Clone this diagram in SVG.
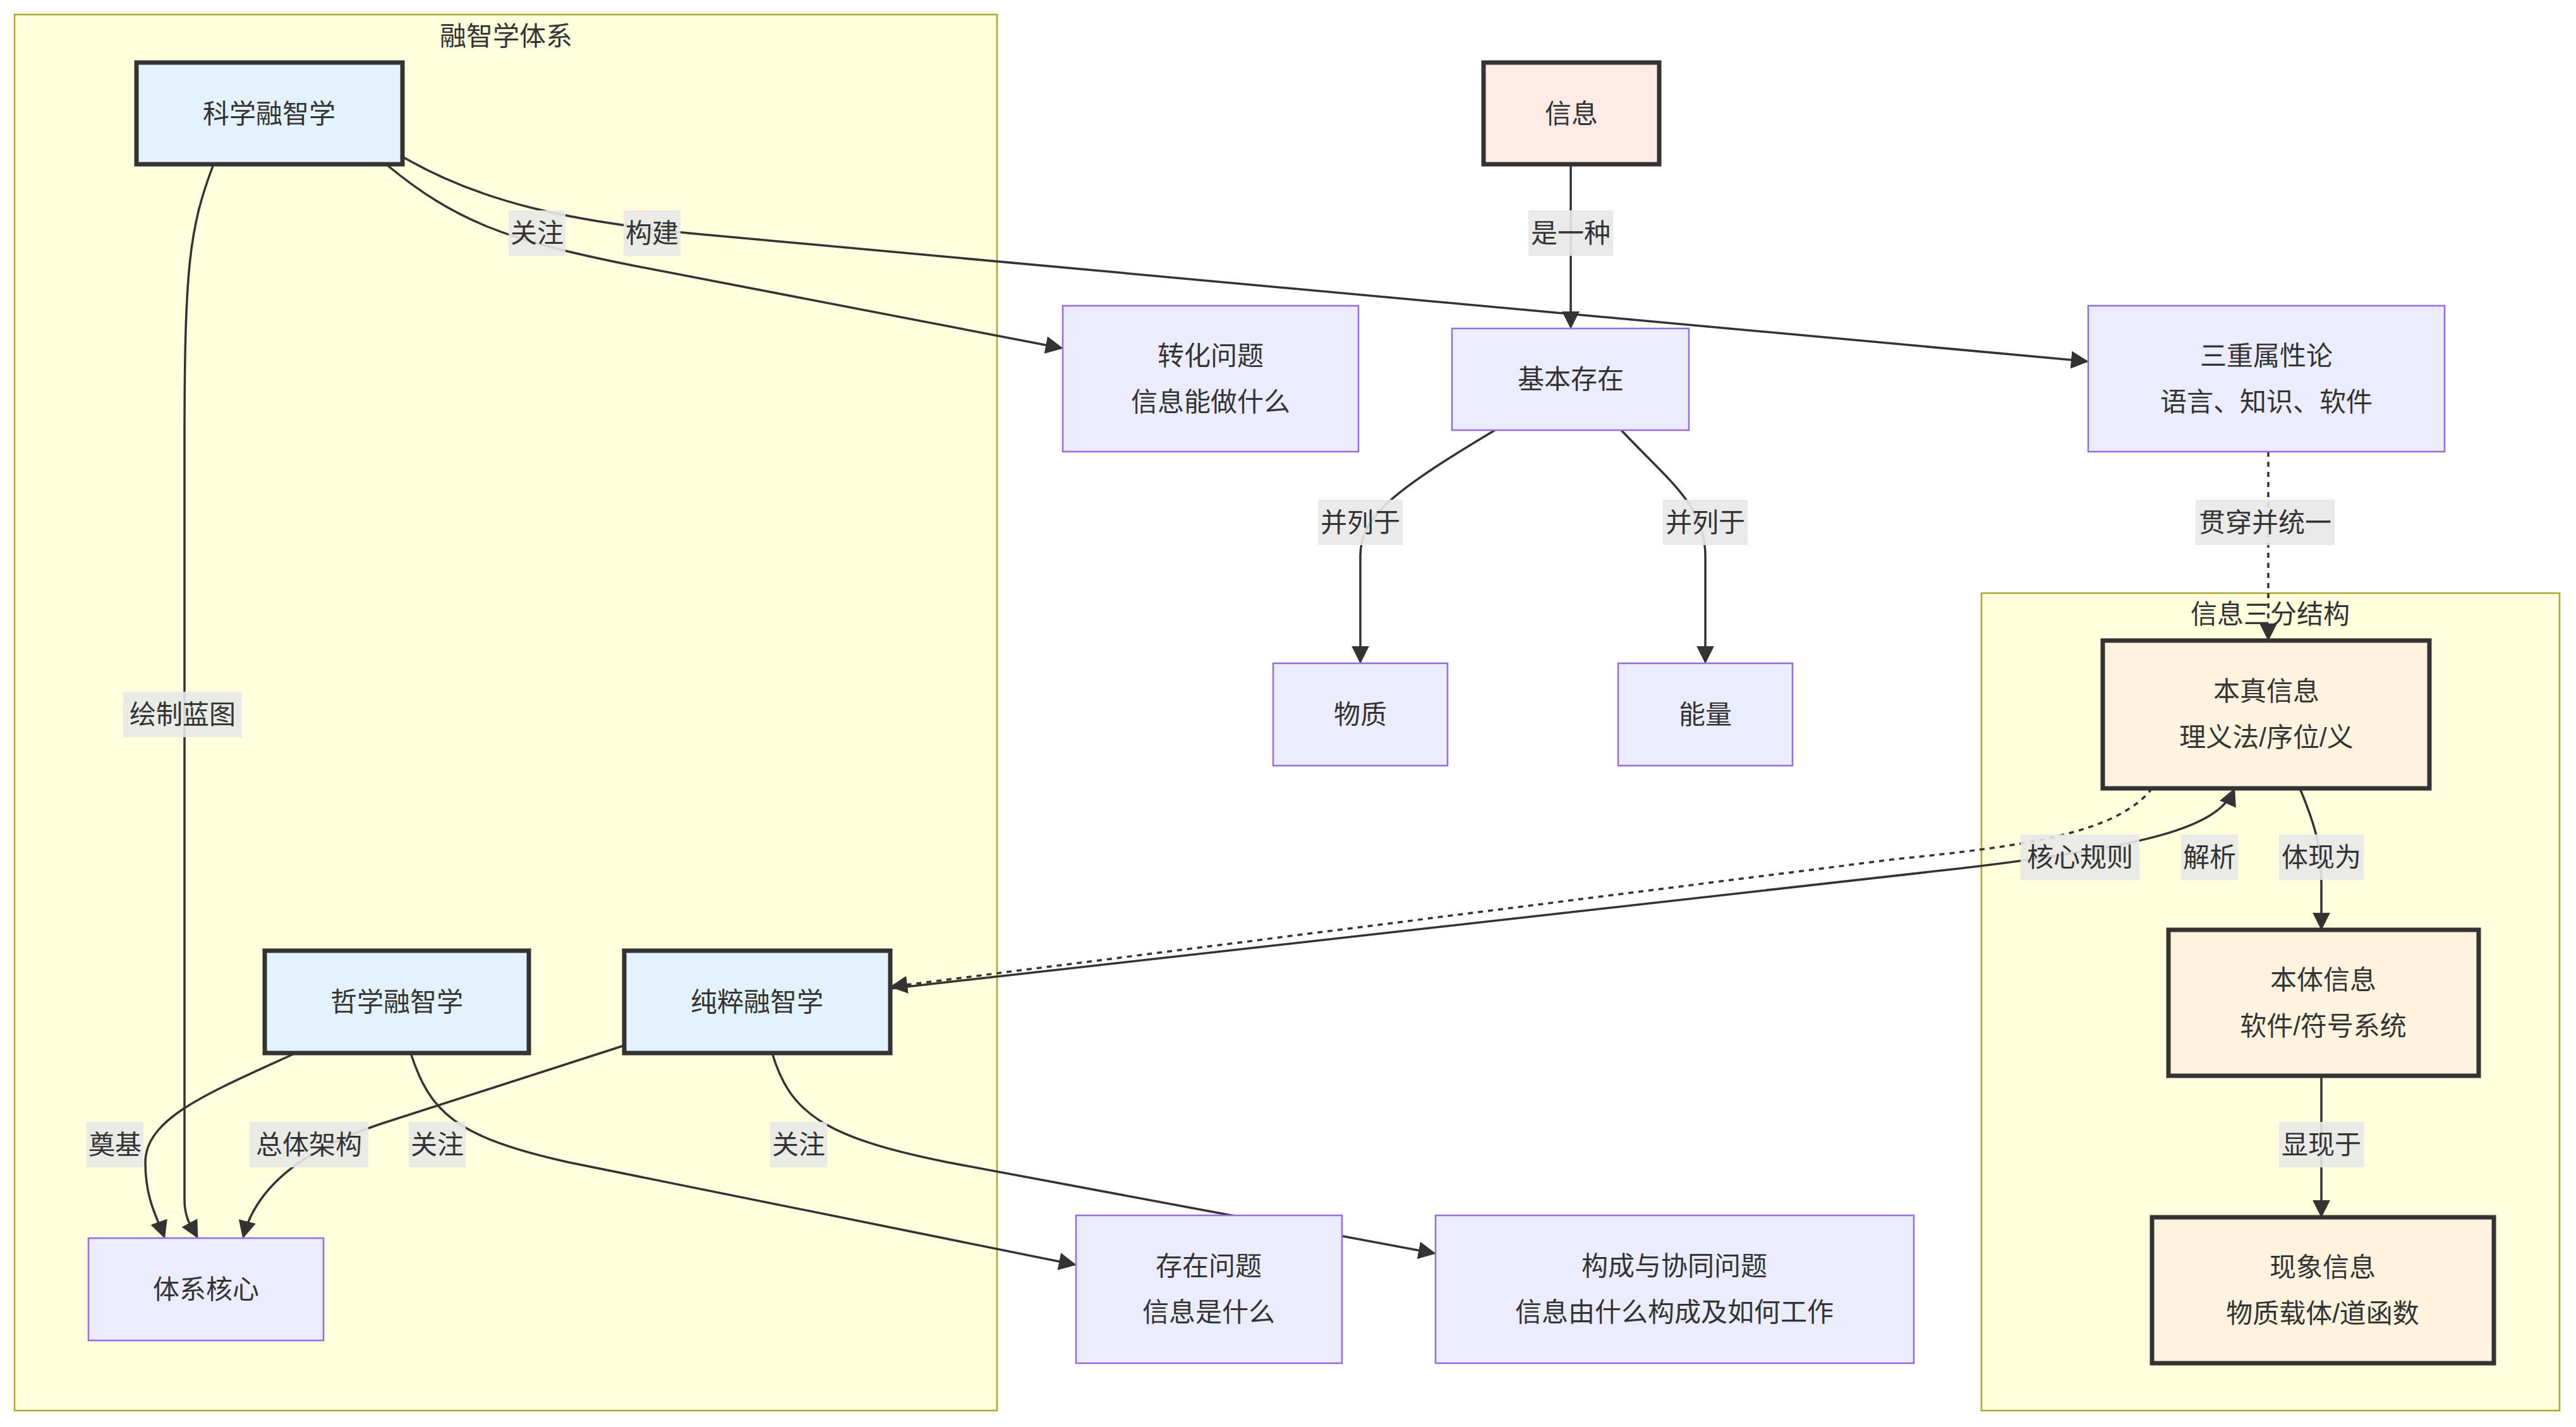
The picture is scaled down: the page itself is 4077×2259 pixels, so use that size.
<svg xmlns="http://www.w3.org/2000/svg" width="4077" height="2259" viewBox="0 0 4077 2259">
<defs>
<marker id="a" viewBox="0 0 10 10" refX="9" refY="5" markerWidth="10" markerHeight="10" markerUnits="userSpaceOnUse" orient="auto"><path d="M0,0L10,5L0,10z" fill="#333"/></marker>
<marker id="ah" viewBox="0 0 10 10" refX="9" refY="5" markerWidth="28" markerHeight="28" markerUnits="userSpaceOnUse" orient="auto"><path d="M0,0L10,5L0,10z" fill="#333"/></marker>
</defs>
<style>
text{font-family:"Liberation Sans","Noto Sans CJK SC",sans-serif;font-size:42px;fill:#333;text-anchor:middle;dominant-baseline:central}
.cl{fill:#ffffde;stroke:#aaaa33;stroke-width:2.6}
.t{fill:#ececff;stroke:#9370db;stroke-width:2.6}
.b{fill:#e3f2fd;stroke:#333;stroke-width:7}
.r{fill:#ffebe5;stroke:#333;stroke-width:7}
.o{fill:#fff3e0;stroke:#333;stroke-width:7}
.e{fill:none;stroke:#333;stroke-width:3.5;marker-end:url(#ah)}
.d{stroke-dasharray:8 8}
.lb{fill:#e8e8e8;opacity:0.9}
</style>
<g id="clusters">
<rect class="cl" x="23" y="23" width="1555" height="2210"/>
<text x="801" y="57">融智学体系</text>
<rect class="cl" x="3136" y="939" width="915" height="1294"/>
</g>
<g id="connectors">
<path class="e" d="M338,260 C300,360 292,420 292,700 L292,1900 C292,1930 305,1945 312,1958"/>
<path class="e" d="M611,260 C720,350 800,380 1000,420 L1680,551"/>
<path class="e" d="M637,248 C760,320 900,350 1100,370 L3303,572"/>
<path class="e" d="M2486,260 L2486,518"/>
<path class="e" d="M2366,681 C2200,780 2153,820 2153,880 L2153,1048"/>
<path class="e" d="M2566,681 C2640,760 2699,800 2699,880 L2699,1048"/>
<path class="e d" d="M3590,715 L3590,1012"/>
<path class="e" d="M3640,1248 C3670,1320 3674,1350 3674,1400 L3674,1470"/>
<path class="e" d="M3674,1703 L3674,1925"/>
<path class="e d" d="M3406,1248 C3350,1320 3200,1340 3000,1360 L1411,1562"/>
<path class="e" d="M1409,1565 L3100,1375 C3400,1340 3510,1310 3536,1250"/>
<path class="e" d="M468,1667 C330,1730 230,1770 230,1840 C230,1900 250,1930 260,1958"/>
<path class="e" d="M650,1667 C680,1760 720,1800 900,1840 L1701,2002"/>
<path class="e" d="M988,1655 L600,1780 C450,1830 400,1900 385,1958"/>
<path class="e" d="M1222,1667 C1250,1760 1300,1800 1500,1840 L2270,1984"/>
</g>
<g id="edge-labels">
<rect class="lb" x="805" y="333" width="90" height="72"/><text x="850" y="369">关注</text>
<rect class="lb" x="987" y="333" width="90" height="72"/><text x="1032" y="369">构建</text>
<rect class="lb" x="2419" y="333" width="134" height="72"/><text x="2486" y="369">是一种</text>
<rect class="lb" x="2086" y="791" width="134" height="72"/><text x="2153" y="827">并列于</text>
<rect class="lb" x="2632" y="791" width="134" height="72"/><text x="2699" y="827">并列于</text>
<rect class="lb" x="3475" y="791" width="220" height="72"/><text x="3585" y="827">贯穿并统一</text>
<rect class="lb" x="195" y="1095" width="188" height="72"/><text x="289" y="1131">绘制蓝图</text>
<rect class="lb" x="3198" y="1321" width="188" height="72"/><text x="3292" y="1357">核心规则</text>
<rect class="lb" x="3452" y="1321" width="90" height="72"/><text x="3497" y="1357">解析</text>
<rect class="lb" x="3607" y="1321" width="134" height="72"/><text x="3674" y="1357">体现为</text>
<rect class="lb" x="3607" y="1776" width="134" height="72"/><text x="3674" y="1812">显现于</text>
<rect class="lb" x="137" y="1776" width="90" height="72"/><text x="182" y="1812">奠基</text>
<rect class="lb" x="395" y="1776" width="188" height="72"/><text x="489" y="1812">总体架构</text>
<rect class="lb" x="647" y="1776" width="90" height="72"/><text x="692" y="1812">关注</text>
<rect class="lb" x="1219" y="1776" width="90" height="72"/><text x="1264" y="1812">关注</text>
</g>
<text x="3593" y="972">信息三分结构</text>
<g id="n-kexue"><rect class="b" x="216" y="99" width="421" height="161"/><text x="426" y="180">科学融智学</text></g>
<g id="n-xinxi"><rect class="r" x="2348" y="99" width="278" height="161"/><text x="2487" y="180">信息</text></g>
<g id="n-zhuanhua"><rect class="t" x="1682" y="484" width="468" height="231"/><text x="1916" y="563">转化问题</text><text x="1916" y="636">信息能做什么</text></g>
<g id="n-jiben"><rect class="t" x="2298" y="520" width="375" height="161"/><text x="2486" y="600">基本存在</text></g>
<g id="n-sanchong"><rect class="t" x="3305" y="484" width="564" height="231"/><text x="3587" y="563">三重属性论</text><text x="3587" y="636">语言、知识、软件</text></g>
<g id="n-wuzhi"><rect class="t" x="2015" y="1050" width="276" height="162"/><text x="2153" y="1131">物质</text></g>
<g id="n-nengliang"><rect class="t" x="2561" y="1050" width="276" height="162"/><text x="2699" y="1131">能量</text></g>
<g id="n-benzhen"><rect class="o" x="3328" y="1014" width="517" height="234"/><text x="3587" y="1094">本真信息</text><text x="3587" y="1167">理义法/序位/义</text></g>
<g id="n-benti"><rect class="o" x="3432" y="1472" width="491" height="231"/><text x="3677" y="1551">本体信息</text><text x="3677" y="1624">软件/符号系统</text></g>
<g id="n-xianxiang"><rect class="o" x="3406" y="1927" width="541" height="231"/><text x="3676" y="2006">现象信息</text><text x="3676" y="2079">物质载体/道函数</text></g>
<g id="n-zhexue"><rect class="b" x="419" y="1505" width="418" height="162"/><text x="628" y="1586">哲学融智学</text></g>
<g id="n-chuncui"><rect class="b" x="988" y="1505" width="421" height="162"/><text x="1198" y="1586">纯粹融智学</text></g>
<g id="n-hexin"><rect class="t" x="140" y="1960" width="372" height="162"/><text x="326" y="2041">体系核心</text></g>
<g id="n-cunzai"><rect class="t" x="1703" y="1924" width="421" height="234"/><text x="1913" y="2004">存在问题</text><text x="1913" y="2077">信息是什么</text></g>
<g id="n-goucheng"><rect class="t" x="2272" y="1924" width="757" height="234"/><text x="2650" y="2004">构成与协同问题</text><text x="2650" y="2077">信息由什么构成及如何工作</text></g>
</svg>
